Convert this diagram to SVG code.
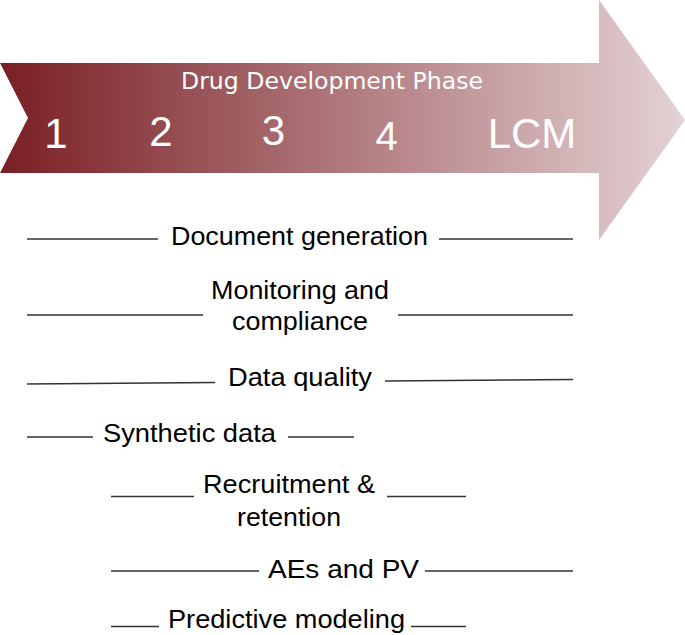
<svg xmlns="http://www.w3.org/2000/svg" width="685" height="635" viewBox="0 0 685 635">
  <defs>
    <linearGradient id="arrowGrad" gradientUnits="userSpaceOnUse" x1="0" y1="0" x2="685" y2="0">
      <stop offset="0" stop-color="#7a1f24"/>
      <stop offset="1" stop-color="#e4d2d4"/>
    </linearGradient>
  </defs>
  <style>
    .phase { font-family: "Liberation Sans", Arial, sans-serif; font-size: 42px; fill: #ffffff; text-anchor: middle; }
    .title { font-family: "DejaVu Sans", Verdana, sans-serif; font-size: 23px; fill: #ffffff; }
    .lbl { font-family: "Liberation Sans", Arial, sans-serif; font-size: 26px; fill: #000000; text-anchor: middle; }
    .ln { stroke: #333333; stroke-width: 1.6; fill: none; }
  </style>
  <rect width="685" height="635" fill="#ffffff"/>
  <g id="arrow">
    <path d="M0,63 L599,63 L599,0 L685,120 L599,240 L599,173 L0,173 L28,118 Z" fill="url(#arrowGrad)"/>
    <text class="title" x="181" y="89" textLength="302" lengthAdjust="spacingAndGlyphs">Drug Development Phase</text>
    <text class="phase" x="56" y="148">1</text>
    <text class="phase" x="161" y="146">2</text>
    <text class="phase" x="273.5" y="145">3</text>
    <text class="phase" x="386.5" y="150" style="font-size:40px">4</text>
    <text class="phase" x="532" y="148">LCM</text>
  </g>
  <g id="connectors">
    <line class="ln" x1="27" y1="239" x2="158" y2="239"/>
    <line class="ln" x1="439" y1="239" x2="573" y2="239"/>
    <line class="ln" x1="27" y1="315" x2="203" y2="315"/>
    <line class="ln" x1="398" y1="315" x2="573" y2="315"/>
    <line class="ln" x1="27" y1="384" x2="215" y2="382.5"/>
    <line class="ln" x1="385" y1="381" x2="573" y2="379.5"/>
    <line class="ln" x1="27" y1="437" x2="93" y2="437"/>
    <line class="ln" x1="288" y1="437" x2="354" y2="437"/>
    <line class="ln" x1="111" y1="496.5" x2="194" y2="496.5"/>
    <line class="ln" x1="387" y1="496.5" x2="466" y2="496.5"/>
    <line class="ln" x1="111" y1="571" x2="259" y2="571"/>
    <line class="ln" x1="425" y1="571" x2="573" y2="571"/>
    <line class="ln" x1="111" y1="626.5" x2="159" y2="626.5"/>
    <line class="ln" x1="411" y1="626.5" x2="466" y2="626.5"/>
  </g>
  <g id="document-generation">
    <text class="lbl" x="299.5" y="244.5" textLength="257" lengthAdjust="spacingAndGlyphs">Document generation</text>
  </g>
  <g id="monitoring-compliance">
    <text class="lbl" x="300" y="298.5" textLength="178" lengthAdjust="spacingAndGlyphs">Monitoring and</text>
    <text class="lbl" x="300" y="330" textLength="136" lengthAdjust="spacingAndGlyphs">compliance</text>
  </g>
  <g id="data-quality">
    <text class="lbl" x="300" y="386" textLength="144" lengthAdjust="spacingAndGlyphs">Data quality</text>
  </g>
  <g id="synthetic-data">
    <text class="lbl" x="189.5" y="442" textLength="173" lengthAdjust="spacingAndGlyphs">Synthetic data</text>
  </g>
  <g id="recruitment-retention">
    <text class="lbl" x="289" y="493" textLength="172" lengthAdjust="spacingAndGlyphs">Recruitment &amp;</text>
    <text class="lbl" x="289" y="526" textLength="104" lengthAdjust="spacingAndGlyphs">retention</text>
  </g>
  <g id="aes-pv">
    <text class="lbl" x="343.5" y="578" textLength="151" lengthAdjust="spacingAndGlyphs">AEs and PV</text>
  </g>
  <g id="predictive-modeling">
    <text class="lbl" x="286.5" y="628" textLength="237" lengthAdjust="spacingAndGlyphs">Predictive modeling</text>
  </g>
</svg>
